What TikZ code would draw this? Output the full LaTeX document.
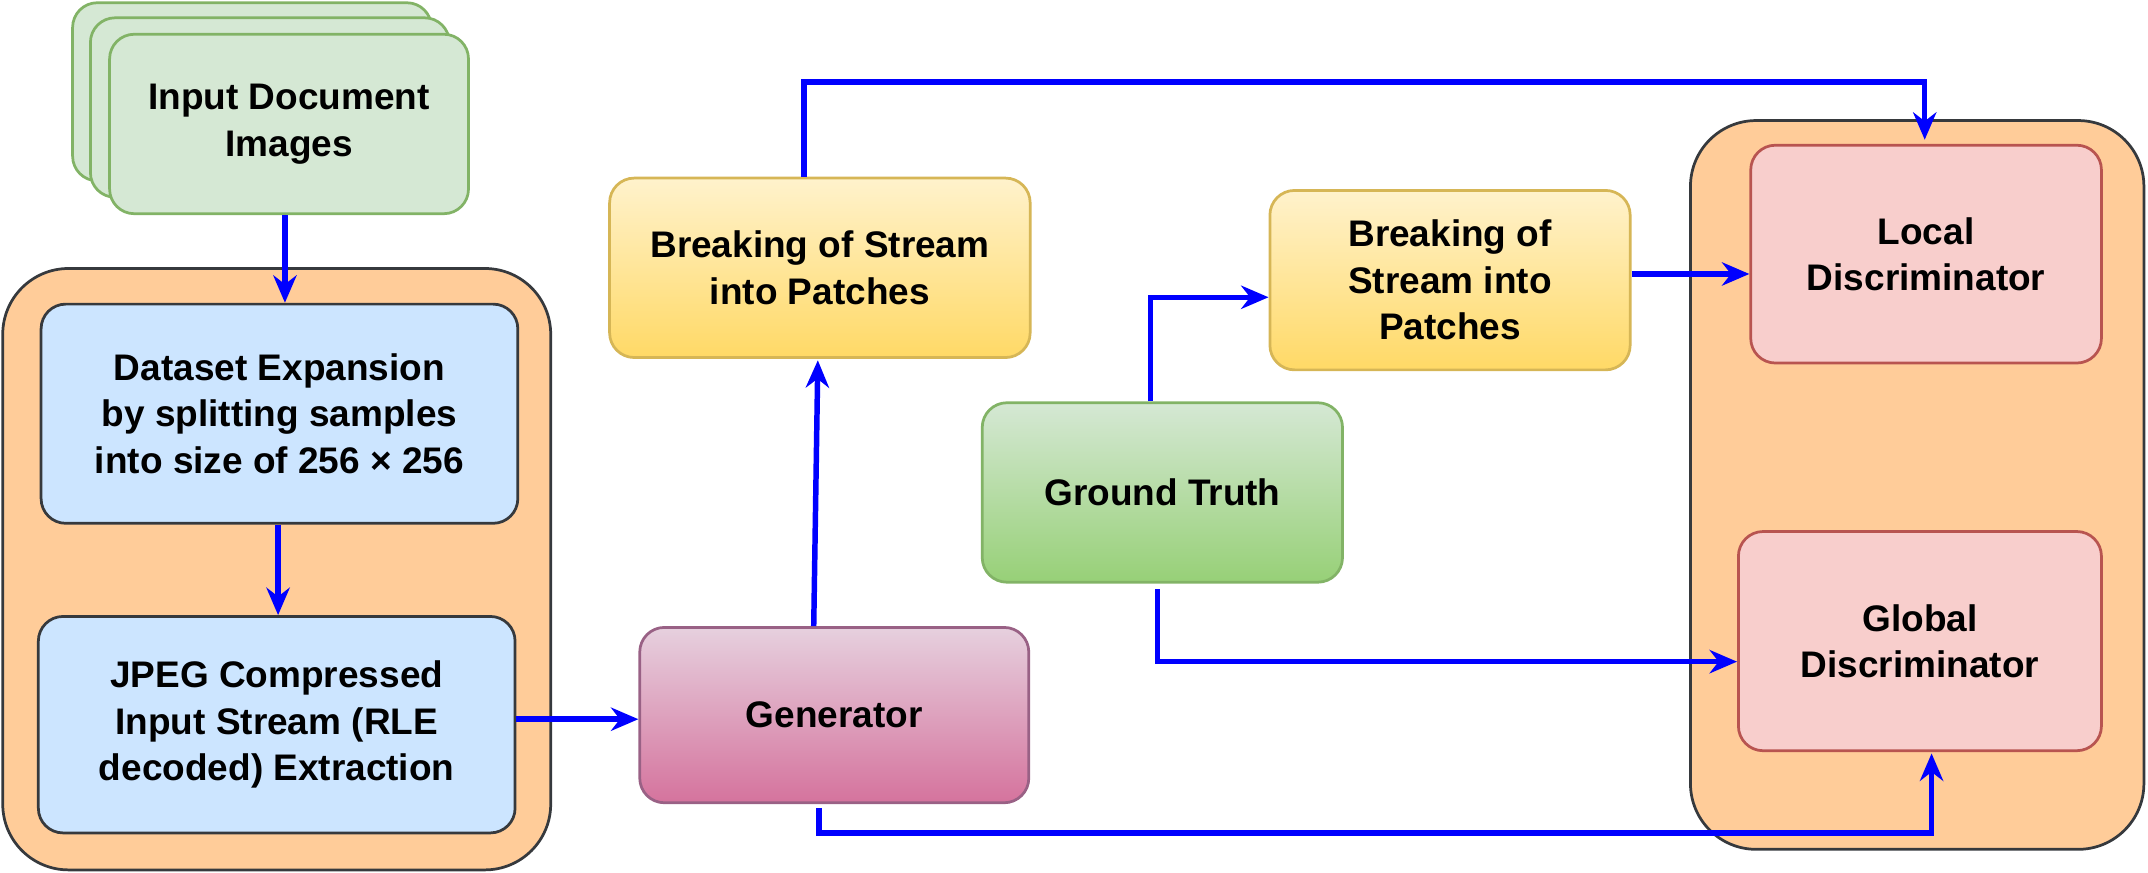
\documentclass[tikz,border=0pt]{standalone}
\usepackage{fontspec}
\setmainfont{Liberation Sans}
\usetikzlibrary{arrows.meta}
\definecolor{gfill}{HTML}{D5E8D4}\definecolor{gline}{HTML}{82B366}
\definecolor{gdark}{HTML}{97D077}
\definecolor{ofill}{HTML}{FFCC99}\definecolor{dline}{HTML}{36393D}
\definecolor{bfill}{HTML}{CCE5FF}
\definecolor{ytop}{HTML}{FFF2CC}\definecolor{ybot}{HTML}{FFD966}\definecolor{yline}{HTML}{D6B656}
\definecolor{ptop}{HTML}{E6D0DE}\definecolor{pbot}{HTML}{D5739D}\definecolor{pline}{HTML}{996185}
\definecolor{rfill}{HTML}{F8CECC}\definecolor{rline}{HTML}{B85450}
\begin{document}
\begin{tikzpicture}[x=1pt,y=-1pt,
 box/.style={draw,line width=2pt,rounded corners=18pt,align=center,inner sep=0pt,
   font=\fontsize{27}{34}\selectfont\bfseries},
 cont/.style={draw=dline,fill=ofill,line width=2pt,rounded corners=48pt},
 arr/.style={draw=blue,line width=4pt,-{Stealth[length=20pt,width=17pt]}}]
\useasboundingbox (0,0) rectangle (1568,637);
% containers
\draw[cont] (2,196) rectangle (402,635);
\draw[cont] (1234,88) rectangle (1565,620);
% stack
\draw[box,draw=gline,fill=gfill] (53,2) rectangle (315,132);
\draw[box,draw=gline,fill=gfill] (66,13) rectangle (328,144);
\node[box,draw=gline,fill=gfill,minimum width=262pt,minimum height=131pt] (inp) at (211,90.5) {Input Document\\Images};
\node[box,draw=dline,fill=bfill,minimum width=348pt,minimum height=160pt] (ds) at (204,302) {Dataset Expansion\\by splitting samples\\ into size of 256 × 256};
\node[box,draw=dline,fill=bfill,minimum width=348pt,minimum height=158pt] (jp) at (202,529) {JPEG Compressed\\Input Stream (RLE\\decoded) Extraction};
\node[box,draw=pline,top color=ptop,bottom color=pbot,minimum width=284pt,minimum height=128pt] (gen) at (609,522) {Generator};
\node[box,draw=yline,top color=ytop,bottom color=ybot,minimum width=307pt,minimum height=131pt] (b1) at (598.5,195.5) {Breaking of Stream\\into Patches};
\node[box,draw=yline,top color=ytop,bottom color=ybot,minimum width=263pt,minimum height=131pt] (b2) at (1058.5,204.5) {Breaking of\\Stream into\\Patches};
\node[box,draw=gline,top color=gfill,bottom color=gdark,minimum width=263pt,minimum height=131pt] (gt) at (848.5,359.5) {Ground Truth};
\node[box,draw=rline,fill=rfill,minimum width=256pt,minimum height=159pt] (loc) at (1406,185.5) {Local\\Discriminator};
\node[box,draw=rline,fill=rfill,minimum width=265pt,minimum height=160pt] (glo) at (1401.5,468) {Global\\Discriminator};
% arrows
\draw[arr] (inp.south -| 208,0) -- (ds.north -| 208,0);
\draw[arr] (ds.south -| 203,0) -- (jp.north -| 203,0);
\draw[arr] (jp.east |- 0,525) -- (gen.west |- 0,525);
\draw[arr] (gen.north -| 594,0) -- (597,263);
\coordinate (c1) at (587,60);
\draw[arr] (b1.north -| 587,0) -- (c1) -| (1405,102);
\draw[arr] (gt.north -| 840,0) |- (b2.west |- 0,217);
\draw[arr] (b2.east |- 0,200) -- (loc.west |- 0,200);
\draw[arr] (845,430) |- (glo.west |- 0,483);
\draw[arr] (598,590) |- (1410,608) -- (1410,550);
\end{tikzpicture}
\end{document}
